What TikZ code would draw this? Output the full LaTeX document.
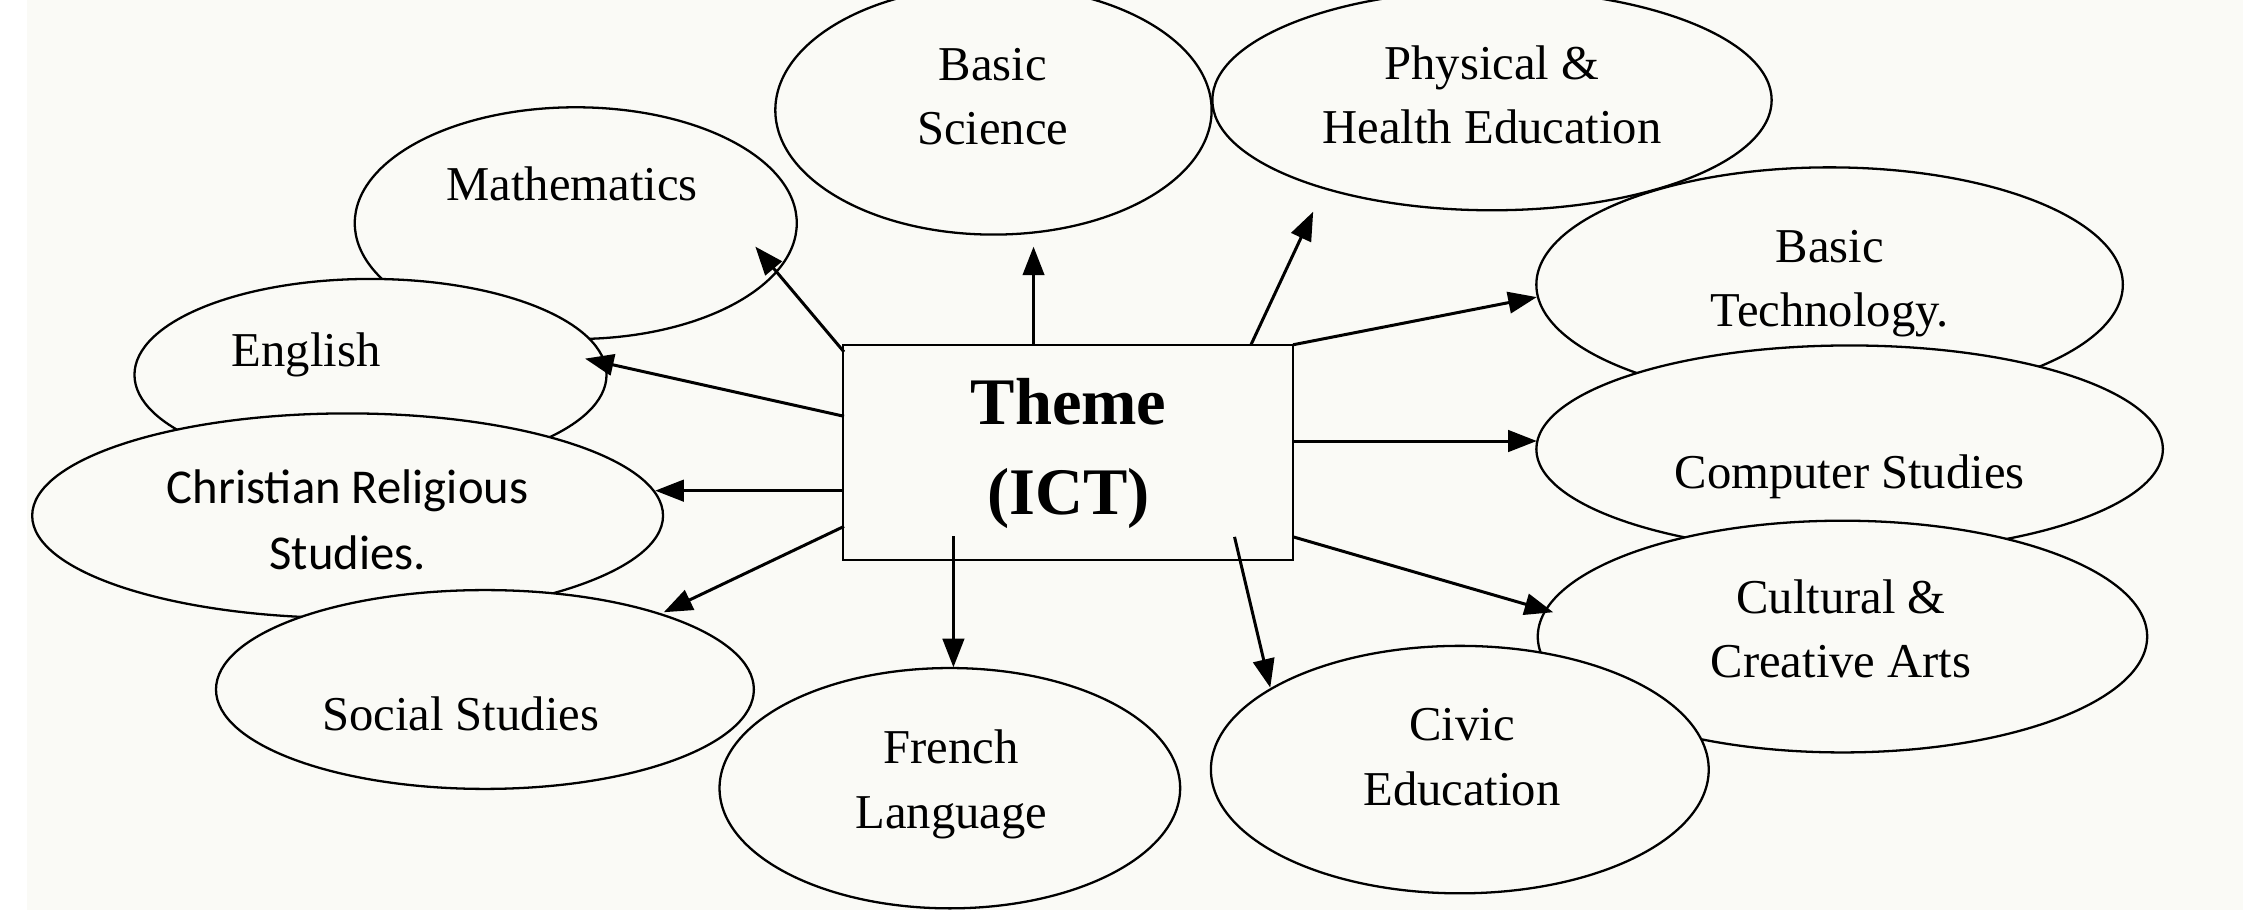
\documentclass[tikz,border=0pt]{standalone}
\usepackage{fontspec}
\setmainfont{Liberation Serif}
\newfontfamily\crsfont{Carlito}
\usetikzlibrary{shapes.geometric,arrows.meta}
\definecolor{bg}{RGB}{250,250,246}
\begin{document}
\begin{tikzpicture}[x=1pt,y=-1pt,
  oval/.style={ellipse,draw,line width=1.6pt,fill=bg,inner sep=0pt},
  lbl/.style={font=\fontsize{34}{45}\selectfont,align=center,inner sep=0pt,anchor=base},
  arr/.style={line width=2.1pt,-{Triangle[length=20pt,width=15pt]}}]
\fill[bg] (0,0) rectangle (1568,636);
\fill[white] (0,0) rectangle (19,636);
\useasboundingbox (0,0) rectangle (1568,636);
% left cluster
\node[oval,minimum width=309pt,minimum height=162pt] (math) at (402.5,156) {};
\node[lbl] (mathT) at (400,140) {Mathematics};
\node[oval,minimum width=330pt,minimum height=134pt] (eng) at (259,262) {};
\node[lbl] (engT) at (214,256) {English};
\node[oval,minimum width=441pt,minimum height=143pt] (crs) at (243,360.5) {};
\node[lbl,font=\crsfont\fontsize{34}{46}\selectfont] (crsT) at (243,398) {Christian Religious\\Studies.};
\node[oval,minimum width=376pt,minimum height=139pt] (soc) at (339,482) {};
\node[lbl] (socT) at (322,511) {Social Studies};
% top and right cluster
\node[oval,minimum width=305pt,minimum height=174pt] (bsci) at (694.5,77) {};
\node[lbl] (bsciT) at (694,101) {Basic\\Science};
\node[oval,minimum width=391pt,minimum height=154pt] (phys) at (1043,70) {};
\node[lbl] (physT) at (1043,100.6) {Physical \&\\Health Education};
\node[oval,minimum width=410pt,minimum height=164pt] (btech) at (1279,199) {};
\node[lbl] (btechT) at (1279,228.4) {Basic\\Technology.};
\node[oval,minimum width=438pt,minimum height=145pt] (cs) at (1293,314) {};
\node[lbl] (csT) at (1293,341.6) {Computer Studies};
\node[oval,minimum width=426pt,minimum height=162pt] (cult) at (1288,445) {};
\node[lbl] (cultT) at (1287,473.8) {Cultural \&\\Creative Arts};
\node[oval,minimum width=348pt,minimum height=173pt] (civic) at (1020.5,538) {};
\node[lbl] (civicT) at (1022,563) {Civic\\Education};
\node[oval,minimum width=322pt,minimum height=168pt] (fr) at (664,551) {};
\node[lbl] (frT) at (665,579) {French\\Language};
% centre box
\node[draw,line width=1.5pt,fill=bg,minimum width=314.5pt,minimum height=150.5pt,inner sep=0pt] (box) at (746.75,316.25) {};
\node[anchor=base,align=center,inner sep=0pt,font=\fontsize{46.5}{63}\selectfont\bfseries] (boxT) at (747,360) {Theme\\(ICT)};
% arrow ends
\coordinate (sMath) at (590,246);   \coordinate (tMath) at (528,172.4);
\coordinate (sEng) at (590,291);    \coordinate (tEng) at (409,250.7);
\coordinate (sCrs) at (590,343);    \coordinate (tCrs) at (458,343);
\coordinate (sSoc) at (590,368);    \coordinate (tSoc) at (464,428);
\coordinate (sFr) at (666.5,375);   \coordinate (tFr) at (666.5,466.5);
\coordinate (sBs) at (722.5,241);   \coordinate (tBs) at (722.5,172.4);
\coordinate (sPh) at (874.5,241);   \coordinate (tPh) at (918,148);
\coordinate (sBt) at (904,241);     \coordinate (tBt) at (1074.3,207.7);
\coordinate (sCs) at (904,308.3);   \coordinate (tCs) at (1074.3,308.3);
\coordinate (sCu) at (904,375.3);   \coordinate (tCu) at (1085.8,428);
\coordinate (sCv) at (863,375.3);   \coordinate (tCv) at (888,480.7);
\draw[arr] (sMath) -- (tMath);
\draw[arr] (sEng) -- (tEng);
\draw[arr] (sCrs) -- (tCrs);
\draw[arr] (sSoc) -- (tSoc);
\draw[arr] (sFr) -- (tFr);
\draw[arr] (sBs) -- (tBs);
\draw[arr] (sPh) -- (tPh);
\draw[arr] (sBt) -- (tBt);
\draw[arr] (sCs) -- (tCs);
\draw[arr] (sCu) -- (tCu);
\draw[arr] (sCv) -- (tCv);
\end{tikzpicture}
\end{document}
